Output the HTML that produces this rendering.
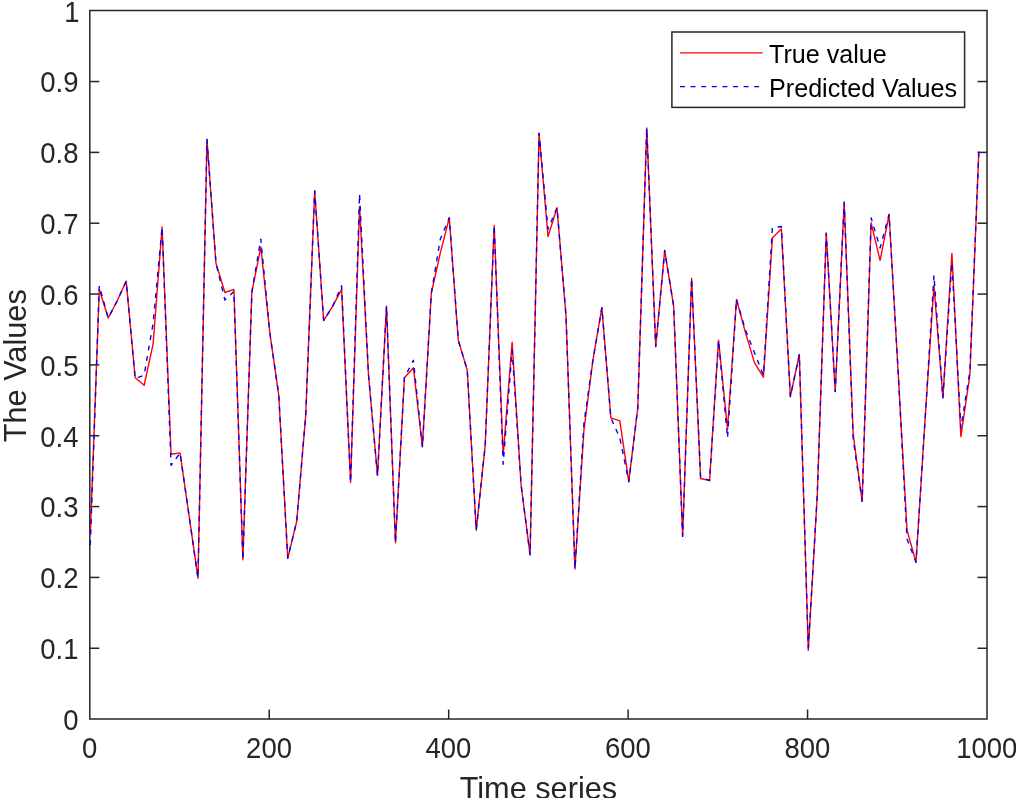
<!DOCTYPE html>
<html lang="en">
<head>
<meta charset="utf-8">
<title>True value vs Predicted Values</title>
<style>
html,body{margin:0;padding:0;background:#fff;}
body{width:1016px;height:798px;overflow:hidden;}
svg{display:block;}
text{font-family:"Liberation Sans",Arial,Helvetica,sans-serif;fill:#262626;}
.tk{font-size:27.5px;}
.lb{font-size:30.7px;}
.lg{font-size:25.1px;fill:#000;}
</style>
</head>
<body>
<svg width="1016" height="798" viewBox="0 0 1016 798">
<rect x="0" y="0" width="1016" height="798" fill="#ffffff"/>

<g fill="none" stroke="#262626" stroke-width="1.5" stroke-linecap="butt">
<rect x="89.80" y="10.50" width="897.20" height="708.50"/>
<path d="M269.24 719.00V709.50"/>
<path d="M448.68 719.00V709.50"/>
<path d="M628.12 719.00V709.50"/>
<path d="M807.56 719.00V709.50"/>
<path d="M89.80 648.26H99.30"/>
<path d="M987.00 648.26H977.50"/>
<path d="M89.80 577.42H99.30"/>
<path d="M987.00 577.42H977.50"/>
<path d="M89.80 506.58H99.30"/>
<path d="M987.00 506.58H977.50"/>
<path d="M89.80 435.74H99.30"/>
<path d="M987.00 435.74H977.50"/>
<path d="M89.80 364.90H99.30"/>
<path d="M987.00 364.90H977.50"/>
<path d="M89.80 294.06H99.30"/>
<path d="M987.00 294.06H977.50"/>
<path d="M89.80 223.22H99.30"/>
<path d="M987.00 223.22H977.50"/>
<path d="M89.80 152.38H99.30"/>
<path d="M987.00 152.38H977.50"/>
<path d="M89.80 81.54H99.30"/>
<path d="M987.00 81.54H977.50"/>
</g>
<g class="tk" text-anchor="end">
<text transform="translate(78.5 729.90) scale(1 1.045)">0</text>
<text transform="translate(78.5 659.06) scale(1 1.045)">0.1</text>
<text transform="translate(78.5 588.22) scale(1 1.045)">0.2</text>
<text transform="translate(78.5 517.38) scale(1 1.045)">0.3</text>
<text transform="translate(78.5 446.54) scale(1 1.045)">0.4</text>
<text transform="translate(78.5 375.70) scale(1 1.045)">0.5</text>
<text transform="translate(78.5 304.86) scale(1 1.045)">0.6</text>
<text transform="translate(78.5 234.02) scale(1 1.045)">0.7</text>
<text transform="translate(78.5 163.18) scale(1 1.045)">0.8</text>
<text transform="translate(78.5 92.34) scale(1 1.045)">0.9</text>
<text transform="translate(79.5 21.50) scale(1 1.045)">1</text>
</g>
<g class="tk" text-anchor="middle">
<text transform="translate(89.60 757.6) scale(1 1.045)">0</text>
<text transform="translate(269.04 757.6) scale(1 1.045)">200</text>
<text transform="translate(448.48 757.6) scale(1 1.045)">400</text>
<text transform="translate(627.92 757.6) scale(1 1.045)">600</text>
<text transform="translate(807.36 757.6) scale(1 1.045)">800</text>
<text transform="translate(986.80 757.6) scale(1 1.045)">1000</text>
</g>
<text class="lb" text-anchor="middle" x="538.40" y="799.2">Time series</text>
<text class="lb" text-anchor="middle" transform="translate(25.6 365.75) rotate(-90)">The Values</text>
<polyline fill="none" stroke="#ff0000" stroke-width="1.4" stroke-linejoin="round" points="90.30,535.25 99.27,289.54 108.25,318.02 117.22,300.74 126.20,281.18 135.18,377.75 144.15,385.26 153.12,343.95 162.10,227.05 171.07,454.20 180.05,452.92 189.02,515.41 198.00,578.18 206.97,139.41 215.95,263.18 224.93,292.52 233.90,289.40 242.88,559.69 251.85,292.23 260.82,246.96 269.80,332.62 278.77,395.32 287.75,558.20 296.72,521.36 305.70,415.51 314.68,190.92 323.65,320.57 332.62,306.40 341.60,289.40 350.57,482.47 359.55,206.58 368.52,375.20 377.50,475.52 386.48,306.26 395.45,542.69 404.43,377.75 413.40,367.69 422.38,446.62 431.35,293.01 440.32,252.91 449.30,217.84 458.27,340.13 467.25,370.17 476.23,530.15 485.20,445.41 494.18,225.35 503.15,455.40 512.12,342.11 521.10,485.02 530.07,554.73 539.05,133.32 548.02,236.62 557.00,207.78 565.97,315.12 574.95,568.97 583.92,430.39 592.90,360.25 601.88,307.68 610.85,417.85 619.82,420.83 628.80,481.69 637.77,407.86 646.75,128.07 655.72,346.43 664.70,250.43 673.67,306.26 682.65,536.38 691.62,278.42 700.60,478.50 709.57,480.48 718.55,340.13 727.52,429.12 736.50,299.53 745.47,332.62 754.45,362.66 763.42,377.25 772.40,237.82 781.37,229.11 790.35,396.52 799.32,354.65 808.30,650.38 817.27,495.01 826.25,233.29 835.22,391.49 844.20,202.32 853.17,434.15 862.15,501.31 871.12,222.80 880.10,260.42 889.07,214.51 898.05,370.17 907.02,530.15 916.00,562.17 924.97,421.18 933.95,285.50 942.92,397.80 951.90,253.41 960.87,436.63 969.85,375.20 978.82,151.38"/>
<polyline fill="none" stroke="#0000ff" stroke-width="1.4" stroke-linejoin="round" stroke-dasharray="5 5.6" points="90.30,545.17 99.27,285.86 108.25,318.02 117.22,300.74 126.20,281.18 135.18,378.67 144.15,375.13 153.12,323.41 162.10,227.05 171.07,465.46 180.05,452.92 189.02,515.41 198.00,578.18 206.97,139.41 215.95,263.18 224.93,300.03 233.90,291.52 242.88,559.69 251.85,292.23 260.82,239.10 269.80,332.62 278.77,395.32 287.75,558.20 296.72,521.36 305.70,415.51 314.68,190.92 323.65,320.57 332.62,306.40 341.60,285.86 350.57,482.47 359.55,194.03 368.52,375.20 377.50,475.52 386.48,306.26 395.45,542.69 404.43,377.75 413.40,360.25 422.38,446.62 431.35,293.01 440.32,239.10 449.30,217.84 458.27,340.13 467.25,370.17 476.23,530.15 485.20,445.41 494.18,225.35 503.15,464.19 512.12,350.33 521.10,485.02 530.07,554.73 539.05,133.32 548.02,229.18 557.00,207.78 565.97,315.12 574.95,568.97 583.92,423.31 592.90,360.25 601.88,307.68 610.85,417.85 619.82,437.90 628.80,481.69 637.77,407.86 646.75,128.07 655.72,346.43 664.70,250.43 673.67,306.26 682.65,536.38 691.62,278.42 700.60,477.15 709.57,480.48 718.55,340.13 727.52,437.90 736.50,299.53 745.47,330.07 754.45,352.67 763.42,375.27 772.40,227.76 781.37,226.56 790.35,396.52 799.32,354.65 808.30,647.90 817.27,495.01 826.25,233.29 835.22,391.49 844.20,202.32 853.17,438.89 862.15,501.31 871.12,217.84 880.10,247.95 889.07,214.51 898.05,370.17 907.02,538.93 916.00,562.17 924.97,421.18 933.95,275.44 942.92,397.80 951.90,262.90 960.87,427.84 969.85,371.58 978.82,151.38"/>
<rect x="671.9" y="32" width="292.7" height="75.4" fill="#ffffff" stroke="#262626" stroke-width="1.5"/>
<path d="M680 52.9H762.7" stroke="#ff0000" stroke-width="1.4" fill="none"/>
<path d="M680 86.6H762.7" stroke="#0000ff" stroke-width="1.4" stroke-dasharray="5 5.6" fill="none"/>
<text class="lg" x="769.1" y="62.9">True value</text>
<text class="lg" x="769.1" y="96.7">Predicted Values</text>
</svg>
</body>
</html>
